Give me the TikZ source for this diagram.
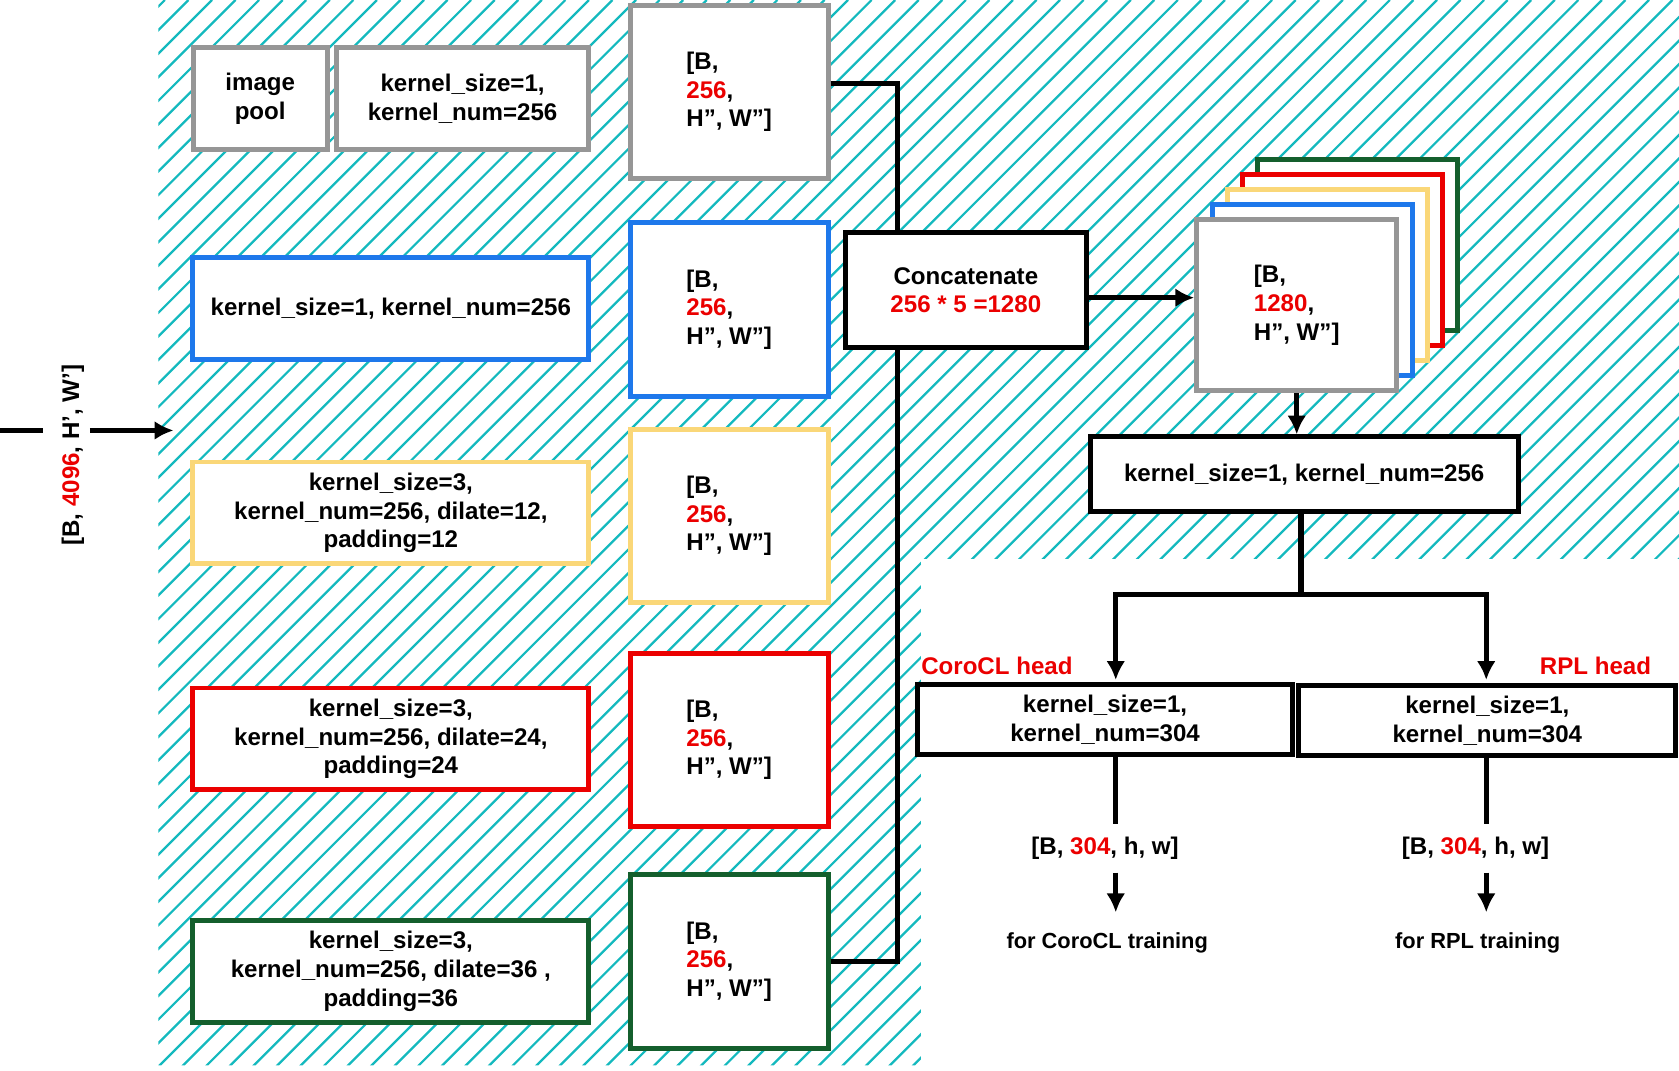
\documentclass[tikz,border=0pt]{standalone}
\usepackage{fontspec}
\setmainfont{Liberation Sans}
\usetikzlibrary{calc,arrows.meta,positioning}
\definecolor{cHatch}{RGB}{20,185,190}
\definecolor{cRed}{RGB}{235,0,0}
\definecolor{cBlue}{RGB}{30,120,235}
\definecolor{cYellow}{RGB}{250,215,120}
\definecolor{cGreen}{RGB}{20,95,45}
\definecolor{cGray}{RGB}{150,150,150}
\tikzset{
  box/.style={draw, line width=1.3pt, fill=white, align=center, inner sep=0pt,
    font=\fontsize{6.4}{7.6}\selectfont\bfseries},
  sz/.style 2 args={minimum width=#1*0.01cm, minimum height=#2*0.01cm},
  txt/.style={align=center, font=\fontsize{6.4}{7.6}\selectfont\bfseries},
  arr/.style={line width=1.4pt, -{Latex[length=5pt,width=5pt]}},
  lin/.style={line width=1.4pt}
}
\newcommand{\rd}[1]{\textcolor{cRed}{#1}}
\newcommand{\featText}[1]{[B,\\\rd{#1},\\H'', W'']}
\begin{document}
\begin{tikzpicture}[x=0.01cm,y=-0.01cm]
       \useasboundingbox (0,0) rectangle (1568,1000);
       %背景斜線
       \begin{scope}
        \clip (148,0) -- (1568,0) -- (1568,522) -- (860,522) -- (860,995) -- (148,995) -- cycle;
        \foreach \vX in {-1000,-978,...,1600}
            \draw[cHatch, line width=0.6pt] (\vX,1000) -- ++(1000,-1000);
       \end{scope}
       
       %左側的各個卷積
       \node[box, draw=cGray, sz={125}{95}] (nPool) at (243,92) {image\\pool};
       \node[box, draw=cGray, sz={235}{95}] (nConvA) at (432,92) {kernel\_size=1,\\kernel\_num=256};
       \node[box, draw=cBlue, sz={370}{95}] (nConvB) at (365,288) {kernel\_size=1, kernel\_num=256};
       \foreach \vName/\vCol/\vY/\vDil in 
       {nConvC/cYellow/479/12,
           nConvD/cRed/690/24,
           nConvE/cGreen/907/36
        }
        {
            \node[box, draw=\vCol, sz={370}{95}] (\vName) at (365,\vY)
              {kernel\_size=3,\\kernel\_num=256, dilate=\vDil,\\padding=\vDil};
        };
       
       %輸出特徵
       \foreach \vName/\vCol/\vY in 
       {nOutA/cGray/86, nOutB/cBlue/289, nOutC/cYellow/482, nOutD/cRed/691, nOutE/cGreen/898}
        {
            \node[box, draw=\vCol, sz={185}{162}, align=left] (\vName) at (681,\vY)
              {\featText{256}};
        };
       
       %合併
       \coordinate (cBusTop) at (838,78);
       \coordinate (cBusBot) at (838,898);
       \draw[lin] (nOutA.east |- cBusTop) -- (cBusTop) -- (cBusBot) -- (nOutE.east |- cBusBot);
       \node[box, sz={225}{107}] (nConcat) at (902,271) {Concatenate\\\rd{256 * 5 =1280}};
       
       %堆疊的特徵
       \foreach \vCol/\vD in {cGreen/56, cRed/42, cYellow/28, cBlue/14}
        {
            \draw[\vCol, line width=1.3pt, fill=white] (1118+\vD,205-\vD) rectangle ++(187,160);
        };
       \node[box, draw=cGray, sz={187}{160}, align=left] (nStack) at (1211,285)
         {\featText{1280}};
       \coordinate (cConcatY) at (0,278);
       \draw[arr] (nConcat.east |- cConcatY) -- (nStack.west |- cConcatY);
       
       \node[box, sz={400}{70}] (nConvF) at (1218,443) {kernel\_size=1, kernel\_num=256};
       \draw[arr] (nStack.south) -- (nStack.south |- nConvF.north);
       
       %兩個分支
       \node[box, sz={350}{65}] (nHeadA) at (1032,672) {kernel\_size=1,\\kernel\_num=304};
       \node[box, sz={352}{65}] (nHeadB) at (1389,673) {kernel\_size=1,\\kernel\_num=304};
       \coordinate (cSplit) at (1215,555);
       \draw[lin] (nConvF.south -| cSplit) -- (cSplit);
       \draw[arr] (cSplit) -| (1042,635);
       \draw[arr] (cSplit) -| (1388,635);
       \node[txt, text=cRed] (nLblA) at (931,622) {CoroCL head};
       \node[txt, text=cRed] (nLblB) at (1490,622) {RPL head};
       
       \foreach \vId/\vX/\vName in 
       {A/1042/CoroCL, B/1388/RPL}
        {
            \coordinate (cCol\vId) at (\vX,0);
            \node[txt] (nShape\vId) at (\vX-10,792) {[B, \rd{304}, h, w]};
            \node[txt, font=\fontsize{5.8}{7}\selectfont\bfseries] (nTrain\vId) at (\vX-8,881) {for \vName\ training};
            \draw[lin] (\vX,706) -- (nShape\vId.north -| cCol\vId);
            \draw[arr] (nShape\vId.south -| cCol\vId) -- (\vX,852);
        };
       
       %輸入
       \node[txt, rotate=90] (nInput) at (68,425) {[B, \rd{4096}, H', W']};
       \coordinate (cInStart) at (0,402);
       \draw[lin] (cInStart) -- (40,402);
       \draw[arr] (84,402) -- (162,402);
        %
\end{tikzpicture}
\end{document}
